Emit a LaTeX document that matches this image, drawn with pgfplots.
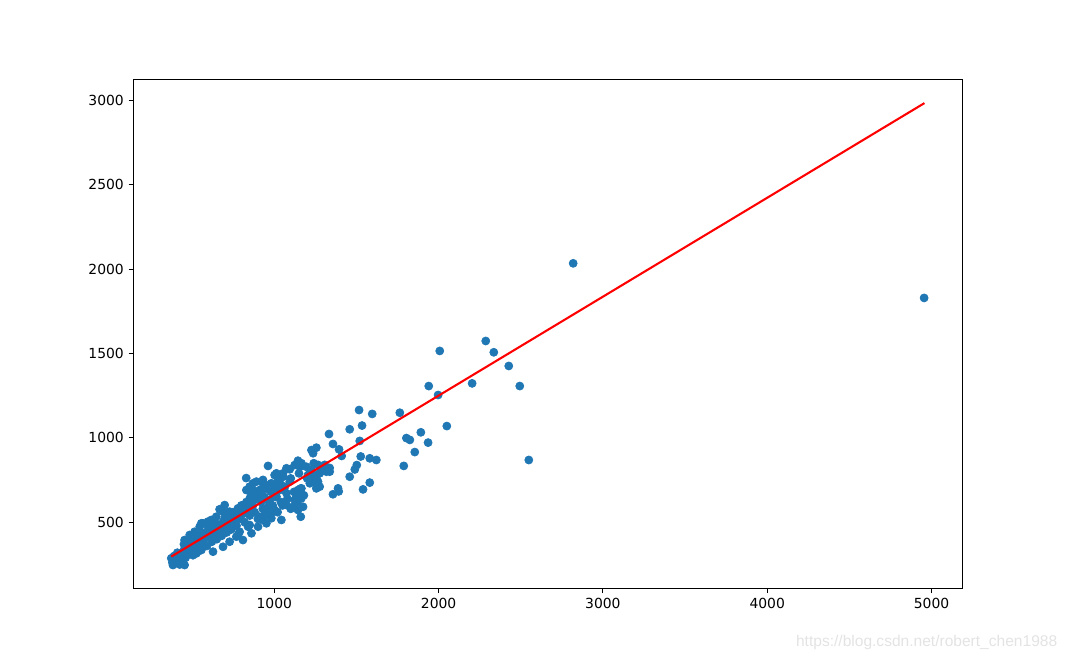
\documentclass[border=0pt]{standalone}
\usepackage{pgfplots}
\pgfplotsset{compat=1.18}
\usepackage{fontspec}
\setmainfont{DejaVu Sans}
\newfontfamily\wmfont{Liberation Sans}
\definecolor{mplblue}{HTML}{1F77B4}
\definecolor{wm}{HTML}{E3E3E3}
\begin{document}
\begin{tikzpicture}
\path[use as bounding box] (-96.2pt,-52.4pt) rectangle (673.5pt,423.6pt);
\begin{axis}[
  at={(0,0)}, anchor=south west,
  scale only axis, width=596.5pt, height=366.5pt,
  xmin=143.7, xmax=5186, ymin=109, ymax=3124,
  xtick={1000,2000,3000,4000,5000},
  ytick={500,1000,1500,2000,2500,3000},
  tick align=outside, tick pos=left,
  major tick length=3.5pt,
  every tick/.style={black, line width=0.8pt},
  axis line style={line width=0.8pt},
  tick label style={font=\fontsize{10}{12}\selectfont},
  /pgf/number format/assume math mode=true,
  /pgf/number format/1000 sep={},
  scaled ticks=false,
  clip mode=individual,
]
\addplot[only marks, color=mplblue, mark=*, mark size=2.9pt, mark options={solid, fill=mplblue, draw=mplblue, line width=0.5pt}] coordinates {
(2819,2034) (4955,1829) (2007,1515) (2287,1574) (2336,1507) (2427,1426)
(2204,1323) (2494,1307) (1940,1307) (1997,1254) (1764,1149) (2050,1070)
(1892,1033) (1804,999) (1825,988) (1936,972) (1855,916) (2549,869) (1788,834)
(1516,1165) (1596,1142) (1534,1073) (1459,1051) (1333,1023) (1520,982)
(1357,964) (1394,932) (1410,893) (1226,928) (1256,942) (1236,909) (1526,890)
(1581,879) (1621,869) (1502,839) (1490,813) (1459,770) (1581,735) (1540,695)
(1388,701) (1357,666) (1392,683) (1337,822) (1317,800) (1144,865) (1124,839)
(1165,850) (1094,814) (1053,790) (1195,829) (1226,810) (1266,840) (1307,840)
(1266,741) (1276,711) (1256,701) (1205,780) (1236,761) (1216,731) (1155,691)
(1135,652) (1165,642) (1074,602) (1114,592) (1144,573) (1161,533) (1043,514)
(1053,770) (1033,731) (1063,711) (962,834) (829,762) (1002,780) (1023,751)
(982,731) (1074,820) (1155,829) (1175,592) (1124,632) (1094,741) (1074,672)
(1144,691) (931,731) (911,691) (972,632) (1013,652) (861,435) (779,425)
(728,454) (901,474) (962,592) (1002,573) (942,543) (982,524) (931,514)
(952,494) (667,577) (688,563) (627,326) (556,494) (596,504) (627,514)
(454,395) (485,425) (515,444) (840,474) (383,247) (424,250) (454,247)
(373,287) (526,316) (556,336) (708,533) (739,553) (779,583) (789,543)
(769,415) (789,444) (678,573) (698,602) (728,563) (647,533) (546,474)
(566,494) (617,514) (688,355) (728,385) (809,395) (850,484) (911,533)
(972,543) (992,563) (830,691) (850,711) (870,731) (891,741) (931,751)
(1276,790) (1256,731) (1337,800) (1013,790) (1033,751) (1053,711) (1165,701)
(380,262) (390,300) (400,280) (410,320) (420,295) (430,270) (440,310)
(450,335) (460,290) (470,355) (480,320) (490,380) (500,340) (505,305)
(515,390) (520,360) (530,410) (540,330) (550,375) (560,420) (570,395)
(580,440) (590,360) (600,410) (610,450) (620,385) (630,470) (640,430)
(650,400) (660,480) (670,450) (680,420) (690,505) (700,470) (710,440)
(720,520) (730,490) (740,460) (750,540) (760,505) (770,480) (780,560)
(790,520) (800,600) (810,550) (820,500) (830,620) (840,580) (850,540)
(860,660) (870,600) (880,560) (890,640) (900,520) (910,680) (920,620)
(930,580) (940,650) (950,700) (960,560) (970,620) (980,680) (990,600)
(1000,720) (1010,650) (1020,560) (1030,690) (1040,620) (1050,600) (1060,700)
(1080,640) (1100,580) (1120,680) (1140,620) (1160,700) (1180,660) (1200,760)
(1220,800) (1240,850) (1260,780) (1280,820)
(450,370) (550,430) (650,490) (750,560) (850,640) (950,720) (1050,770) (1150,790)
(600,470) (700,530) (800,580) (900,660) (1000,700) (1100,760) (870,690) (940,700)
};
\addplot[red, line width=1.5pt] coordinates {(373,297) (4957,2983)};
\end{axis}
\node[text=wm, font=\wmfont\fontsize{11.2}{13}\selectfont] at (571pt,-38.8pt) {https://blog.csdn.net/robert\_chen1988};
\end{tikzpicture}
\end{document}
